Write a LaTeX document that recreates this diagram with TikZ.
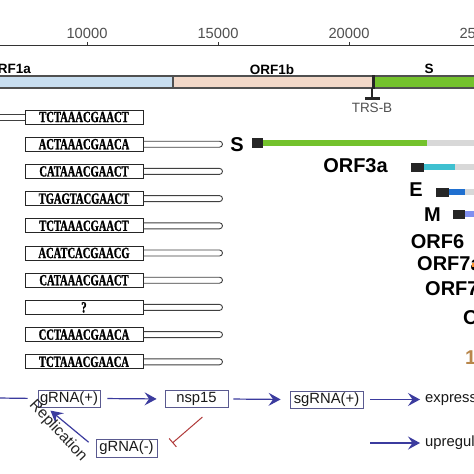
\documentclass[tikz,border=0pt]{standalone}
\usepackage{fontspec}
\setmainfont{Liberation Sans}
\newfontfamily\seqfont[UprightFont=* Bold,FakeStretch=0.68,FakeBold=1.2]{Liberation Serif}
\usetikzlibrary{arrows.meta,calc}
\definecolor{orfa}{HTML}{C8DEF0}
\definecolor{orfb}{HTML}{F2D8C8}
\definecolor{sgreen}{HTML}{74C22C}
\definecolor{barborder}{HTML}{505050}
\definecolor{flowblue}{HTML}{3B3B9E}
\definecolor{boxblue}{HTML}{5A5A90}
\definecolor{inhred}{HTML}{B03A3A}
\definecolor{graytxt}{HTML}{505050}
\definecolor{lightbar}{HTML}{D8D8D8}
\definecolor{cyanbar}{HTML}{3EC0D0}
\definecolor{ebar}{HTML}{2070D0}
\definecolor{mbar}{HTML}{8090F0}
\definecolor{tan}{HTML}{B8864B}
\begin{document}
\begin{tikzpicture}[x=1pt,y=-1pt,
  ticklabel/.style={text=graytxt,font=\fontsize{14.7}{16}\selectfont,inner sep=0pt},
  genlabel/.style={font=\bfseries\fontsize{13.5}{15}\selectfont,inner sep=0pt},
  seqbox/.style={draw=black!85,line width=1pt,minimum width=118pt,minimum height=14pt,inner sep=0pt,
    font=\seqfont\fontsize{15.5}{15.5}\selectfont},
  tube/.style={draw=black!75,line width=0.9pt},
  orflabel/.style={font=\bfseries\fontsize{20}{22}\selectfont,inner sep=0pt},
  marker/.style={fill=black!85},
  flowbox/.style={draw=boxblue,line width=0.8pt,inner sep=0pt,minimum height=17pt,
    font=\fontsize{14.8}{16}\selectfont,text=black!90},
  flowtext/.style={font=\fontsize{14.8}{16}\selectfont,text=black!90,inner sep=0pt},
  flow/.style={draw=flowblue,line width=1.2pt,-{Stealth[length=12pt,width=13pt,inset=4.5pt]}},
  inhib/.style={draw=inhred,line width=1pt,-{Bar[width=11pt]}}
]
\useasboundingbox (0,0) rectangle (474,474);
\clip (0,0) rectangle (474,474);
\fill[white] (0,0) rectangle (474,474);

% axis
\draw[black!80,line width=1pt] (-2,45) -- (476,45);
\foreach \x/\t in {87/10000,218/15000,349/20000,480/25000}{
  \draw[black!80,line width=1pt] (\x,45) -- (\x,42);
  \node[ticklabel] (tick\t) at (\x,33) {\t};
}

% genome bar
\fill[orfa] (-2,76) rectangle (173,88);
\fill[orfb] (173,76) rectangle (372,88);
\fill[sgreen] (374,76) rectangle (476,88);
\draw[barborder,line width=1.4pt] (-2,76) -- (476,76);
\draw[barborder,line width=1.4pt] (-2,88) -- (476,88);
\draw[barborder,line width=1.2pt] (173,76) -- (173,88);
\fill[black!85] (371.5,75) rectangle (374.5,89);
\node[genlabel,anchor=east] (orf1a) at (31,69) {ORF1a};
\node[genlabel] (orf1b) at (272,70) {ORF1b};
\node[genlabel] (slab) at (429,69) {S};

% TRS-B
\draw[black!85,line width=1.2pt] (372,88) -- (372,98);
\draw[black!85,line width=2.2pt] (365,98.5) -- (380,98.5);
\node[ticklabel,font=\fontsize{13.5}{15}\selectfont] (trsb) at (372,108) {TRS-B};

% sequence boxes
\foreach \i/\s in {1/TCTAAACGAACT,2/ACTAAACGAACA,3/CATAAACGAACT,4/TGAGTACGAACT,5/TCTAAACGAACT,
                   6/ACATCACGAACG,7/CATAAACGAACT,8/?,9/CCTAAACGAACA,10/TCTAAACGAACA}{
  \pgfmathsetmacro{\yy}{117+(\i-1)*27.2}
  \node[seqbox] (s\i) at (84,\yy) {\s};
}
% leader tube
\draw[tube] (-2,114) -- (s1.west |- 0,114);
\draw[tube] (-2,120) -- (s1.west |- 0,120);
% body tubes
\foreach \i in {2,...,10}{
  \draw[tube] ($(s\i.east)+(0,-3)$) -- ++(76,0) arc(-90:90:3) -- ($(s\i.east)+(0,3)$);
}

% right-side sgRNA bars
\node[orflabel] (lS) at (237,145) {S};
\fill[marker] (252,138) rectangle (263,148);
\fill[sgreen] (263,140) rectangle (427,146);
\fill[lightbar] (427,140) rectangle (476,146);

\node[orflabel] (l3a) at (355.5,166) {ORF3a};
\fill[marker] (411,162.5) rectangle (424,171.5);
\fill[cyanbar] (424,164) rectangle (455,170);
\fill[lightbar] (455,164) rectangle (476,170);

\node[orflabel] (lE) at (416,190) {E};
\fill[marker] (436,187.5) rectangle (449,196.5);
\fill[ebar] (449,189) rectangle (465,195);
\fill[lightbar] (465,189) rectangle (476,195);

\node[orflabel] (lM) at (432.5,215) {M};
\fill[marker] (453,209.5) rectangle (465,218.5);
\fill[mbar] (465,211) rectangle (476,217);

\node[orflabel] (l6) at (437.5,242) {ORF6};
\node[orflabel,anchor=west] (l7a) at (417,264) {ORF7a};
\fill[orange!80] (471.5,263) rectangle (476,267);
\node[orflabel,anchor=west] (l7b) at (425,288) {ORF7b};
\node[orflabel,anchor=west] (l8) at (463,318) {ORF8};
\node[orflabel,anchor=west,text=tan] (l10) at (465,358) {1};

% flow diagram
\node[flowbox,minimum width=62pt] (gp) at (69,398.5) {gRNA(+)};
\node[flowbox,minimum width=63pt] (nsp) at (196.5,399) {nsp15};
\node[flowbox,minimum width=73pt] (sg) at (326.5,399.5) {sgRNA(+)};
\node[flowbox,minimum width=61pt,minimum height=18pt] (gm) at (126.5,448) {gRNA(-)};
\node[flowtext,anchor=west] (expr) at (425,398.5) {expression};
\node[flowtext,anchor=west] (upr) at (425,443) {upregulation};
\coordinate (lin) at (-2,398);
\coordinate (uin) at (370,443);

\draw[draw=flowblue,line width=1.2pt,shorten >=10pt] (lin) -- (gp.west);
\draw[flow,shorten <=7pt,shorten >=8pt] (gp.east) -- (nsp.west);
\draw[flow,shorten <=5pt,shorten >=9pt] (nsp.east) -- (sg.west);
\draw[flow,shorten <=7pt,shorten >=5pt] (sg.east) -- (expr.west |- sg.east);
\draw[flow,shorten >=5pt] (uin) -- (upr.west);
\draw[flow,shorten <=9pt,shorten >=5pt] (gm.west) -- ($(gp.south west)+(9,0)$);
\draw[inhib,shorten <=14pt] ($(nsp.south)+(16.5,0)$) -- ($(gm.east)+(15,-5)$);
\node[text=black!85,font=\fontsize{15.5}{17}\selectfont,rotate=-47,inner sep=0pt] (repl) at (58,431) {Replication};
\end{tikzpicture}
\end{document}
